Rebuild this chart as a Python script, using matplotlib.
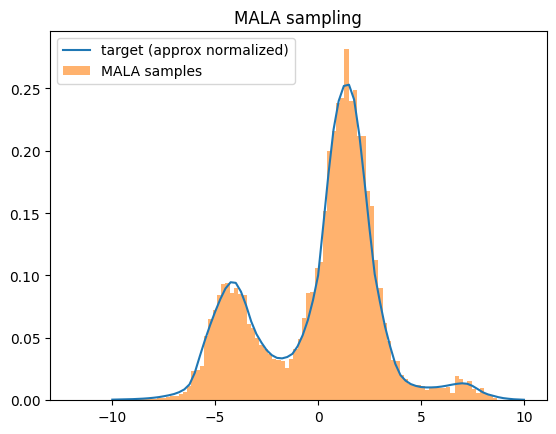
import numpy as np
import matplotlib
matplotlib.use('Agg')
import matplotlib.pyplot as plt

## Target curve (step 0.25 from -10 to 10)
target_x = np.arange(-10.0, 10.0 + 0.125, 0.25)
target_y = [0.0003, 0.0004, 0.0005, 0.0006, 0.0007, 0.0009, 0.0011, 0.0014,
            0.0018, 0.0023, 0.0030, 0.0038, 0.0048, 0.0063, 0.0085, 0.0125,
            0.0215, 0.035, 0.048, 0.060, 0.071, 0.081, 0.0895, 0.0945,
            0.094, 0.087, 0.076, 0.063, 0.053, 0.046, 0.040, 0.036,
            0.0338, 0.0334, 0.0345, 0.037, 0.043, 0.052, 0.064, 0.080,
            0.100, 0.140, 0.181, 0.217, 0.240, 0.252, 0.253, 0.241,
            0.213, 0.176, 0.137, 0.101, 0.079, 0.059, 0.043, 0.029,
            0.020, 0.0155, 0.0128, 0.0113, 0.0104, 0.0101, 0.0101, 0.0103,
            0.0108, 0.0115, 0.0123, 0.0130, 0.0134, 0.0130, 0.0113, 0.0088,
            0.0062, 0.0045, 0.0034, 0.0023, 0.0015, 0.0010, 0.0006, 0.0004,
            0.0002]

## MALA histogram (density per bin, 100 bins)
hist_lo, hist_hi, n_bins = -11.93, 8.70, 100
hist_heights = [0.0002, 0, 0, 0, 0, 0, 0, 0, 0, 0,
                0.0002, 0, 0.0002, 0.0002, 0.0003, 0.0005, 0.0005, 0.0007, 0.001, 0.0012,
                0.0015, 0.002, 0.0025, 0.003, 0.0035, 0.0045, 0.0065, 0.011, 0.023, 0.024,
                0.027, 0.051, 0.065, 0.072, 0.084, 0.093, 0.094, 0.086, 0.090, 0.085,
                0.084, 0.061, 0.058, 0.050, 0.044, 0.041, 0.037, 0.033, 0.032, 0.031,
                0.026, 0.033, 0.041, 0.049, 0.066, 0.086, 0.087, 0.106, 0.111, 0.152,
                0.200, 0.216, 0.238, 0.242, 0.282, 0.240, 0.249, 0.212, 0.212, 0.168,
                0.156, 0.112, 0.090, 0.062, 0.047, 0.032, 0.031, 0.020, 0.017, 0.013,
                0.012, 0.012, 0.0115, 0.008, 0.010, 0.010, 0.010, 0.010, 0.0105, 0.006,
                0.019, 0.0165, 0.013, 0.0155, 0.009, 0.0055, 0.010, 0.005, 0.003, 0.002]

edges = np.linspace(hist_lo, hist_hi, n_bins + 1)
centers = 0.5 * (edges[:-1] + edges[1:])

fig = plt.figure(figsize=(5.56, 4.35), dpi=100)
ax = fig.add_axes([50 / 556, 34 / 435, 496.5 / 556, 369 / 435])

ax.plot(target_x, target_y, label='target (approx normalized)')
ax.hist(centers, bins=edges, weights=hist_heights, alpha=0.6, color='C1',
        label='MALA samples')
ax.set_title('MALA sampling')
ax.legend(loc='upper left')

fig.savefig('out.png', dpi=100)
